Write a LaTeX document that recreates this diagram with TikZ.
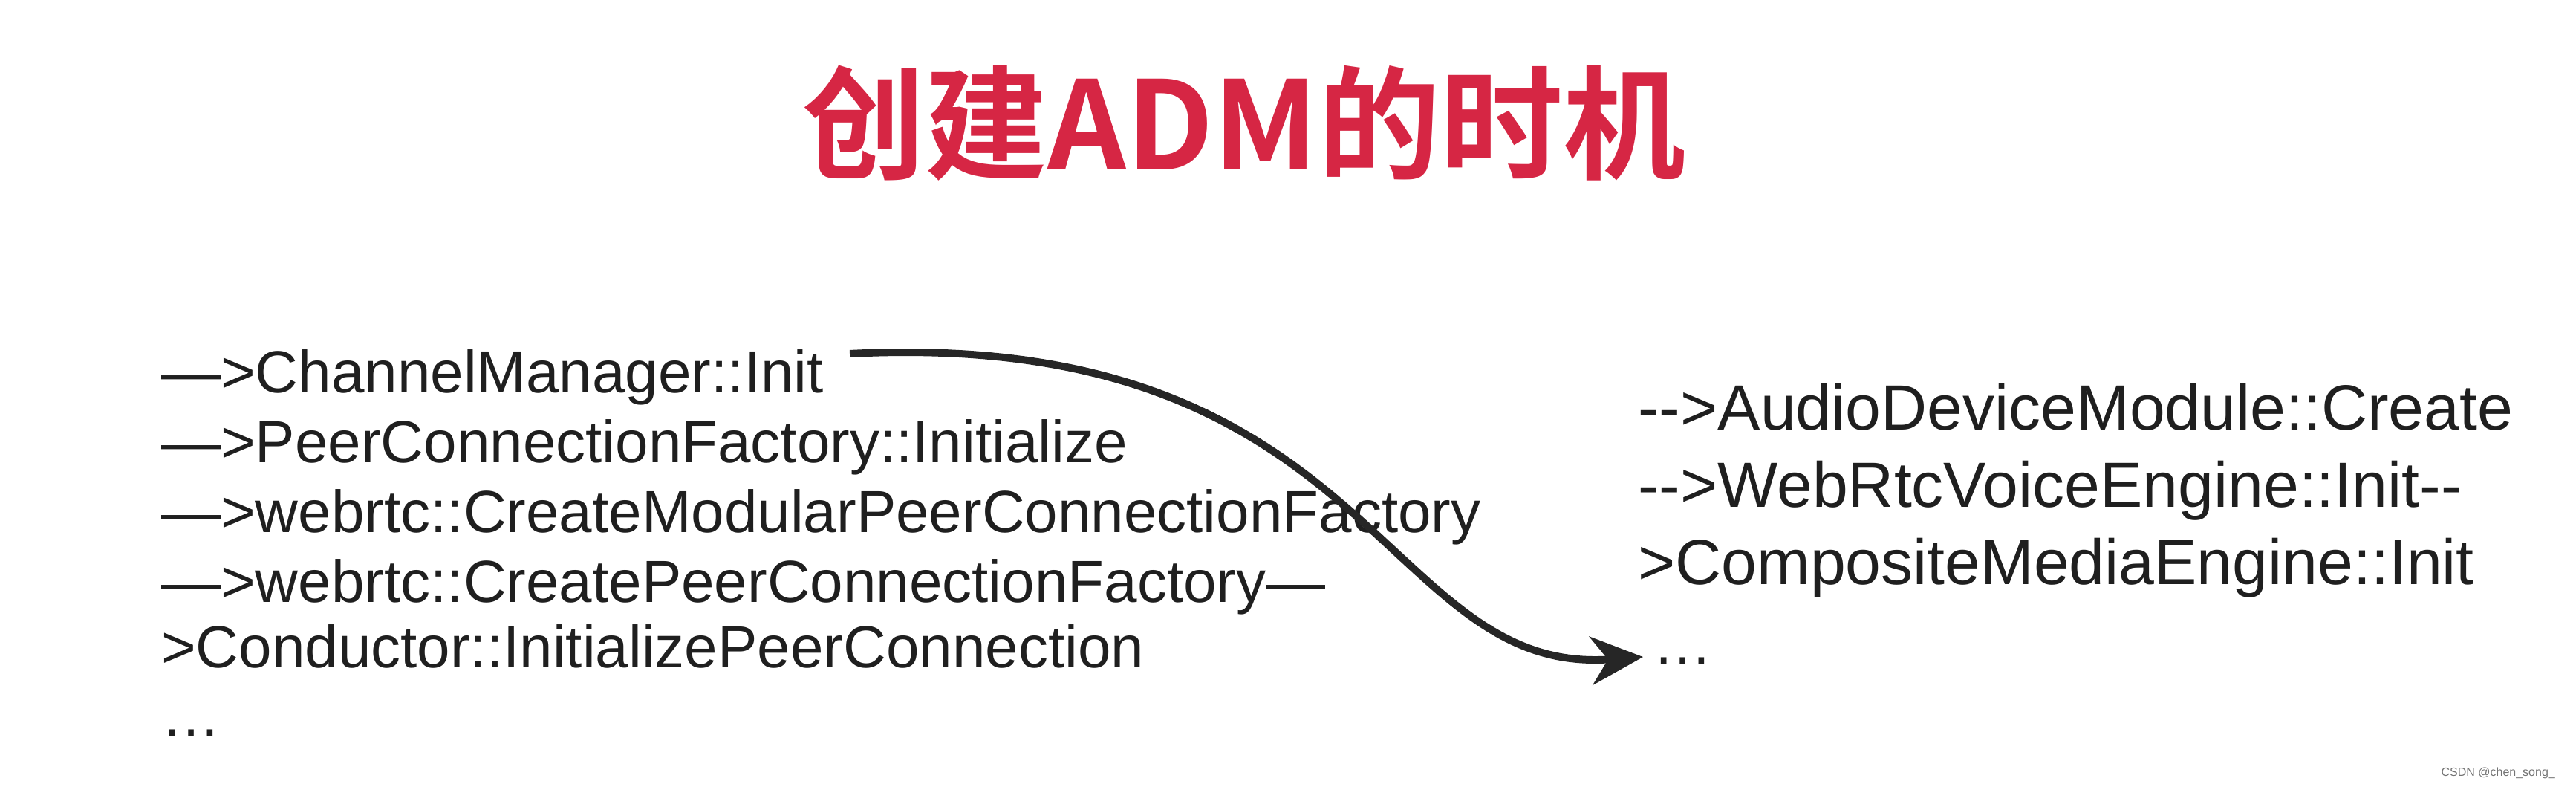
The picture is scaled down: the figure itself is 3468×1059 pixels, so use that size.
\documentclass[tikz,border=0pt]{standalone}
\usepackage{fontspec}
\setmainfont{Liberation Sans}
\newfontfamily\cjk{Noto Sans CJK SC}[BoldFont=* Bold]
\usetikzlibrary{arrows.meta}
\definecolor{titlered}{RGB}{214,38,68}
\tikzset{code/.style={anchor=base west,inner sep=0pt,font=\fontsize{80}{82}\selectfont,text=black!88}}
\begin{document}
\begin{tikzpicture}[x=1pt,y=-1pt]
\useasboundingbox (0,0) rectangle (3468,1059);
\node[anchor=center,inner sep=0pt,text=titlered,font=\cjk\bfseries\fontsize{165}{170}\selectfont] (title) at (1675,166) {创建ADM的时机};
\node[code] (l1) at (217,528) {—>ChannelManager::Init};
\node[code] (l2) at (217,622) {—>PeerConnectionFactory::Initialize};
\node[code] (l3) at (217,716) {—>webrtc::CreateModularPeerConnectionFactory};
\node[code] (l4) at (217,810) {—>webrtc::CreatePeerConnectionFactory—};
\node[code] (l5) at (217,898) {>Conductor::InitializePeerConnection};
\node[code] (l6) at (217,990) {…};
\node[code,font=\fontsize{86}{88}\selectfont] (r1) at (2205,578) {-{}->AudioDeviceModule::Create};
\node[code,font=\fontsize{86}{88}\selectfont] (r2) at (2205,682) {-{}->WebRtcVoiceEngine::Init-{}-};
\node[code,font=\fontsize{86}{88}\selectfont] (r3) at (2205,786) {>CompositeMediaEngine::Init};
\node[code] (r4) at (2225,893) {…};
\coordinate (s) at (1144,476);
\coordinate (e) at (2212,884);
\draw[line width=10pt,black!85,-{Stealth[length=70pt,width=65pt]}] (s) .. controls (1850,440) and (1860,910) .. (e);
\node[anchor=east,inner sep=0pt,text=black!55,font=\fontsize{16}{18}\selectfont] (cr) at (3440,1040) {CSDN @chen\_song\_};
\end{tikzpicture}
\end{document}
